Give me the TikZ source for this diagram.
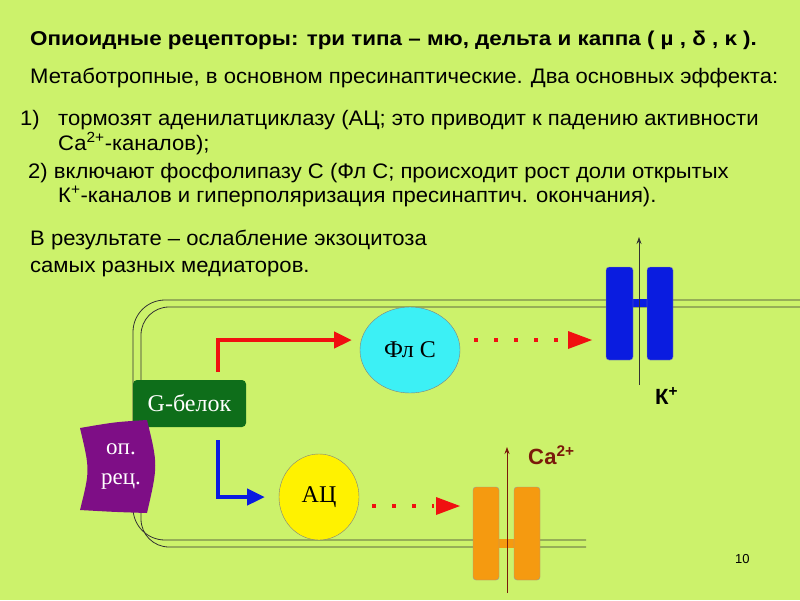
\documentclass[tikz,border=0pt]{standalone}
\usepackage{fontspec}
\setmainfont{Liberation Sans}
\newfontfamily\serif{Liberation Serif}
\usetikzlibrary{arrows.meta,shapes.geometric,calc}
\definecolor{bg}{HTML}{CCF26B}
\definecolor{redar}{HTML}{F01010}
\definecolor{bluech}{HTML}{0A1CE0}
\definecolor{orch}{HTML}{F59A10}
\definecolor{gcol}{HTML}{0E6E1A}
\definecolor{purp}{HTML}{7E0E86}
\definecolor{brn}{HTML}{7A1A0A}
\definecolor{cyn}{HTML}{3CF0F5}
\definecolor{ylw}{HTML}{FFF200}
\newcommand{\sq}[1]{\scalebox{1.05}[1]{#1}}
\begin{document}
\begin{tikzpicture}[x=1pt,y=-1pt,
  txt/.style={anchor=base west,inner sep=0pt,font=\fontsize{21}{23}\selectfont},
  mem/.style={draw=black!80,line width=0.8pt},
  chan/.style={rounded corners=3pt,draw=black!40,line width=0.4pt},
  tri/.style={-{Triangle[length=18pt,width=16pt]}},
  nd/.style={inner sep=0pt,font=\serif\fontsize{24}{26}\selectfont},
  dots/.style={redar,line width=4pt,dash pattern=on 4pt off 16pt}]
\fill[bg] (0,0) rectangle (800,600);
\useasboundingbox (0,0) rectangle (800,600);
\node[txt,font=\fontsize{20}{22}\selectfont\bfseries] (t1) at (30,45) {\scalebox{1.12}[1]{Опиоидные рецепторы: три типа – мю, дельта и каппа ( \textmu\ , δ , κ ).}};
\node[txt] (t2) at (30,83) {\sq{Метаботропные, в основном пресинаптические. Два основных эффекта:}};
\node[txt] (t3a) at (20,125) {\sq{1)}};
\node[txt] (t3) at (58,125) {\sq{тормозят аденилатциклазу (АЦ; это приводит к падению активности}};
\node[txt] (t4) at (58,150) {\sq{Са\textsuperscript{2+}-каналов);}};
\node[txt] (t5) at (28,178) {\sq{2) включают фосфолипазу С (Фл С; происходит рост доли открытых}};
\node[txt] (t6) at (58,202) {\sq{К\textsuperscript{+}-каналов и гиперполяризация пресинаптич. окончания).}};
\node[txt] (t7) at (30,245) {\sq{В результате – ослабление экзоцитоза}};
\node[txt] (t8) at (30,272) {\sq{самых разных медиаторов.}};
\node[txt,font=\fontsize{13}{14}\selectfont] (pg) at (735,563) {10};
% membrane
\draw[mem,rounded corners=32pt] (800,300) -- (133,300) -- (133,540) -- (586,540);
\draw[mem,rounded corners=28pt] (800,307) -- (141,307) -- (141,547) -- (586,547);
% K channel
\fill[bluech] (625,299) rectangle (655,307);
\filldraw[fill=bluech,chan] (606,267) rectangle (633,360);
\filldraw[fill=bluech,chan] (647,267) rectangle (673,360);
\coordinate (kb) at (639,385);
\coordinate (kt) at (639,237);
\draw[line width=0.8pt,black!80,-{Stealth[length=7pt,width=5pt]}] (kb) -- (kt);
\node[anchor=base west,inner sep=0pt,font=\fontsize{22}{24}\selectfont\bfseries] (kl) at (655,404) {К\textsuperscript{+}};
% Ca channel
\fill[orch] (495,539) rectangle (518,548);
\filldraw[fill=orch,chan] (473,487) rectangle (499,580);
\filldraw[fill=orch,chan] (514,487) rectangle (540,580);
\coordinate (cb) at (507,593);
\coordinate (ct) at (507,447);
\draw[line width=0.8pt,brn,-{Stealth[length=7pt,width=5pt]}] (cb) -- (ct);
\node[anchor=base west,inner sep=0pt,font=\fontsize{22}{24}\selectfont\bfseries,text=brn] (cl) at (528,464) {Са\textsuperscript{2+}};
% nodes
\node[ellipse,nd,minimum width=100pt,minimum height=86pt,fill=cyn,draw=black!50] (flc) at (410,350) {Фл С};
\node[ellipse,nd,minimum width=80pt,minimum height=86pt,fill=ylw,draw=black!50] (ac) at (319,497) {АЦ};
\node[nd,rounded corners=4pt,fill=gcol,text=white,minimum width=113pt,minimum height=47pt] (g) at (189.5,403.5) {G-белок};
\fill[purp] (80,428) .. controls (115,422) .. (147,420) .. controls (158,465) .. (147,513) .. controls (115,512) .. (80,510) .. controls (90,470) .. (80,428) -- cycle;
\node[text=white,align=center,font=\serif\fontsize{23}{30}\selectfont] (rec) at (121,467) {оп.\\рец.};
% arrows
\coordinate (r0) at (218,372);
\coordinate (r1) at (218,340);
\coordinate (r2) at (352,340);
\draw[redar,line width=4.5pt,tri] (r0) -- (r1) -- (r2);
\coordinate (b0) at (218,440);
\coordinate (b1) at (218,497);
\coordinate (b2) at (265,497);
\draw[bluech,line width=4.5pt,tri] (b0) -- (b1) -- (b2);
\coordinate (d1) at (474,340);
\coordinate (d2) at (592,340);
\draw[dots] (d1) -- ($(d2)+(-26,0)$);
\fill[redar] (d2) -- ++(-24,-9) -- ++(0,18) -- cycle;
\coordinate (e1) at (372,506);
\coordinate (e2) at (460,506);
\draw[dots] (e1) -- ($(e2)+(-26,0)$);
\fill[redar] (e2) -- ++(-24,-9) -- ++(0,18) -- cycle;
\end{tikzpicture}
\end{document}
